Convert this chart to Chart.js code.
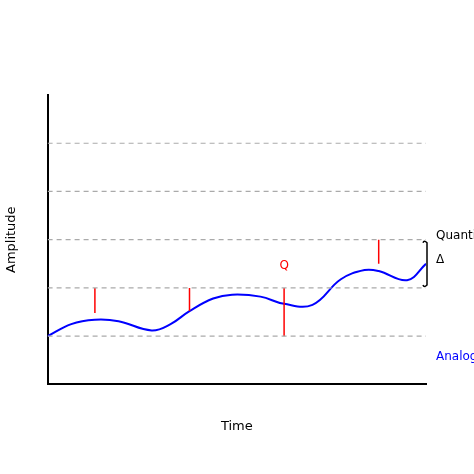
<!DOCTYPE html>
<html><head><script src="https://cdn.jsdelivr.net/npm/chart.js@4"></script>
<style>body{margin:0;background:#fff}#w{width:474px;height:474px}</style></head>
<body><div id="w"><canvas id="c"></canvas></div>
<script>
const curveX=[0,0.5,1,1.5,2.2,2.6,3,3.5,3.9,4.5,5,5.6,6.2,6.7,7,7.6,8];
const curveY=[1,1.25,1.34,1.31,1.12,1.25,1.52,1.78,1.86,1.82,1.67,1.65,2.18,2.37,2.35,2.16,2.5];
const levels=[1,2,3,4,5];
const sampleX=[1,3,5,7];
const sampleLow=[1.48,1.52,1,2.5];
const sampleHigh=[2,2,2,3];
const ds=[];
levels.forEach(l=>ds.push({data:[{x:0,y:l},{x:8,y:l}],borderColor:'#aaa',borderDash:[5,4],borderWidth:1.2,pointRadius:0}));
sampleX.forEach((x,i)=>ds.push({data:[{x,y:sampleLow[i]},{x,y:sampleHigh[i]}],borderColor:'#f00',borderWidth:1.5,pointRadius:0}));
ds.push({data:curveX.map((x,i)=>({x,y:curveY[i]})),borderColor:'#00f',borderWidth:2,pointRadius:0,tension:0.4});
const textPlugin={id:'t',afterDatasetsDraw(ch){
 const c=ch.ctx,xs=ch.scales.x,ys=ch.scales.y;
 c.save();c.font='12px "DejaVu Sans"';c.textBaseline='middle';
 c.fillStyle='#f00';c.textAlign='center';c.fillText('Q',xs.getPixelForValue(5),ys.getPixelForValue(2.45));
 c.textAlign='left';c.fillStyle='#000';
 const bx=xs.getPixelForValue(8)+1,t=ys.getPixelForValue(3),b=ys.getPixelForValue(2);
 c.fillText('Quantization',bx+9,t-4);c.fillText('Δ',bx+9,(t+b)/2-4);
 c.fillStyle='#00f';c.fillText('Analog signal',bx+9,ys.getPixelForValue(0.57));
 c.strokeStyle='#000';c.lineWidth=1.5;c.beginPath();
 c.moveTo(bx-4,t+3);c.quadraticCurveTo(bx-3,t,bx,t+3);c.lineTo(bx,b-3);c.quadraticCurveTo(bx-3,b,bx-4,b-3);c.stroke();
 c.restore();}};
new Chart(document.getElementById('c'),{type:'line',data:{datasets:ds},plugins:[textPlugin],
options:{responsive:true,maintainAspectRatio:false,animation:false,layout:{padding:{top:95,right:48,left:0,bottom:40}},
plugins:{legend:{display:false},tooltip:{enabled:false}},
scales:{x:{type:'linear',min:0,max:8,grid:{display:false},ticks:{display:false},border:{color:'#000',width:2},
 title:{display:true,text:'Time',color:'#000',font:{size:13,family:'DejaVu Sans'},padding:{top:26,bottom:0}}},
 y:{min:0,max:6,grid:{display:false},ticks:{display:false},border:{color:'#000',width:2},
 title:{display:true,text:'Amplitude',color:'#000',font:{size:13,family:'DejaVu Sans'},padding:{bottom:20}}}}}});
</script></body></html>
